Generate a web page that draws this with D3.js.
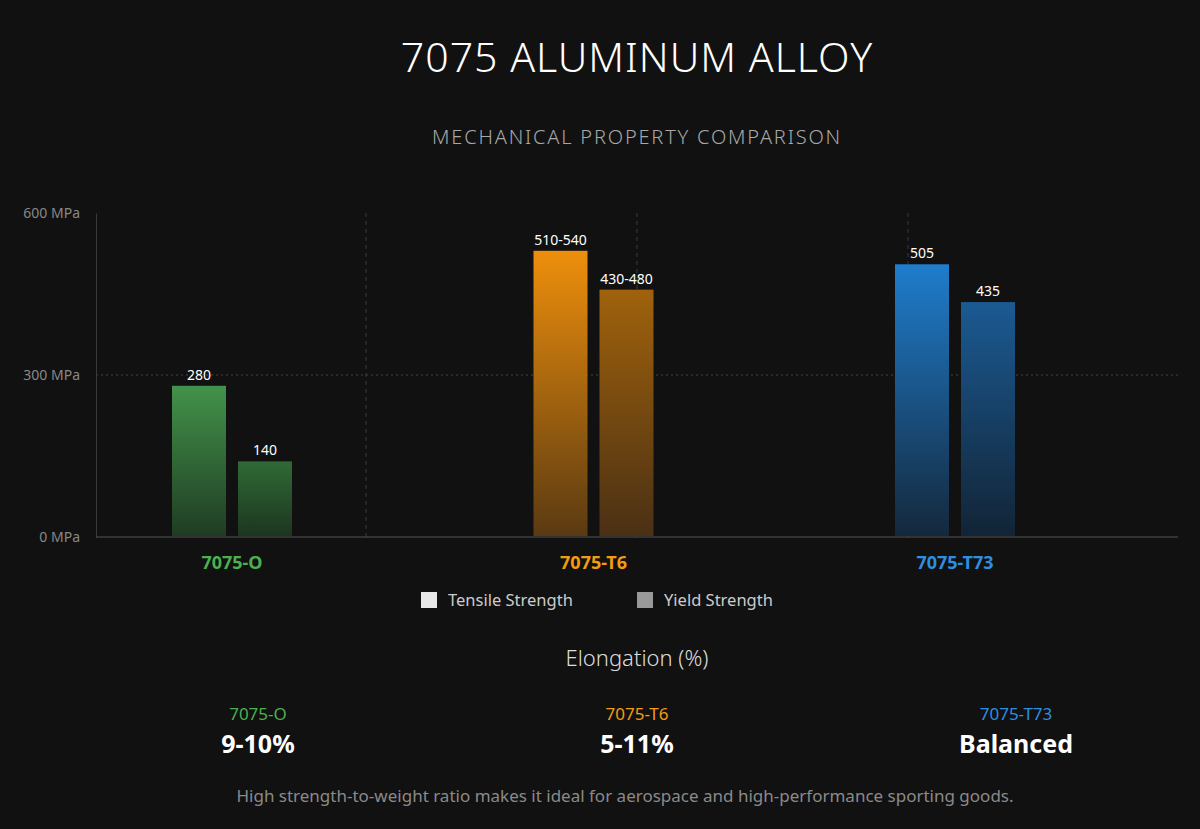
<!DOCTYPE html>
<html><head><meta charset="utf-8">
<script src="https://cdn.jsdelivr.net/npm/d3@7"></script>
<style>body{margin:0;background:#111111;}svg{display:block;font-family:"Noto Sans",sans-serif;}</style>
</head><body><svg id="c" width="1200" height="829"></svg>
<script>
const categories = ["7075-O","7075-T6","7075-T73"];
const tensile = [280, 530, 505];
const yieldS = [140, 458, 435];
const tensileLabels = ["280","510-540","505"];
const yieldLabels = ["140","430-480","435"];
const yTicks = [0, 300, 600];
const elongLabels = ["9-10%","5-11%","Balanced"];
const colors = {"7075-O":["#43924a","#1f3c23","#2f6a36","#1d3520"],
  "7075-T6":["#ee8f0c","#5a3a12","#a0620c","#4a3014"],
  "7075-T73":["#1f7dcc","#14283c","#1b5a92","#122436"]};
const labelColors = ["#4caf50","#f39c12","#2e8fe0"];

const svg = d3.select("#c");
const L=96,R=1178,T=213,B=537;
const y = d3.scaleLinear().domain([0,600]).range([B,T]);
const x = d3.scalePoint().domain(categories).range([232,955]);
const defs = svg.append("defs");
categories.forEach((c,i)=>{
  [[0,1,"t"],[2,3,"y"]].forEach(([a,b,s])=>{
    const g=defs.append("linearGradient").attr("id",`g${i}${s}`).attr("x1",0).attr("x2",0).attr("y1",0).attr("y2",1);
    g.append("stop").attr("offset","0%").attr("stop-color",colors[c][a]);
    g.append("stop").attr("offset","100%").attr("stop-color",colors[c][b]);
  });
});
svg.append("text").attr("x",637).attr("y",72).attr("text-anchor","middle").attr("fill","#fff")
  .attr("font-size",41).attr("font-weight",300).attr("letter-spacing",1).text("7075 ALUMINUM ALLOY");
svg.append("text").attr("x",637).attr("y",144).attr("text-anchor","middle").attr("fill","#a8a8a8")
  .attr("font-size",20).attr("font-weight",300).attr("letter-spacing",1.8).text("MECHANICAL PROPERTY COMPARISON");
// grid
[366,637,908].forEach(v=>svg.append("line").attr("x1",v).attr("x2",v).attr("y1",T).attr("y2",B)
  .attr("stroke","#3a3a3a").attr("stroke-dasharray","4,4"));
svg.append("line").attr("x1",L).attr("x2",R).attr("y1",y(300)).attr("y2",y(300)).attr("stroke","#444").attr("stroke-dasharray","2,3");
// axes
const ya=svg.append("g").attr("transform",`translate(${L},0)`).call(d3.axisLeft(y).tickValues(yTicks).tickSize(0).tickPadding(16).tickFormat(d=>d+" MPa"));
ya.select(".domain").attr("stroke","#3a3a3a");
ya.selectAll("text").attr("fill","#888").attr("font-size",14).attr("font-family","Noto Sans");
svg.append("line").attr("x1",L).attr("x2",R).attr("y1",B).attr("y2",B).attr("stroke","#555");
// bars
const bw=54, gap=12;
categories.forEach((c,i)=>{
  const cx=x(c);
  [[tensile[i],tensileLabels[i],cx-gap/2-bw,"t"],[yieldS[i],yieldLabels[i],cx+gap/2,"y"]].forEach(([v,lab,x0,s])=>{
    svg.append("rect").attr("x",x0).attr("y",y(v)).attr("width",bw).attr("height",B-y(v)-1).attr("fill",`url(#g${i}${s})`);
    svg.append("text").attr("x",x0+bw/2).attr("y",y(v)-6).attr("text-anchor","middle").attr("fill","#fff").attr("font-size",14).text(lab);
  });
  svg.append("text").attr("x",cx).attr("y",569).attr("text-anchor","middle").attr("fill",labelColors[i]).attr("font-size",18).attr("font-weight",700).text(c);
});
// legend
[[421,"#e8e8e8","Tensile Strength"],[637,"#999","Yield Strength"]].forEach(([lx,col,t])=>{
  svg.append("rect").attr("x",lx).attr("y",592).attr("width",16).attr("height",16).attr("fill",col);
  svg.append("text").attr("x",lx+27).attr("y",606).attr("fill","#ccc").attr("font-size",16.5).text(t);
});
svg.append("text").attr("x",637).attr("y",666).attr("text-anchor","middle").attr("fill","#ddd").attr("font-size",22).attr("font-weight",300).text("Elongation (%)");
const ex=[258,637,1016];
categories.forEach((c,i)=>{
  svg.append("text").attr("x",ex[i]).attr("y",720).attr("text-anchor","middle").attr("fill",labelColors[i]).attr("font-size",17).text(c);
  svg.append("text").attr("x",ex[i]).attr("y",753).attr("text-anchor","middle").attr("fill","#fff").attr("font-size",25).attr("font-weight",700).text(elongLabels[i]);
});
svg.append("text").attr("x",625).attr("y",802).attr("text-anchor","middle").attr("fill","#8a8a8a").attr("font-size",17)
  .text("High strength-to-weight ratio makes it ideal for aerospace and high-performance sporting goods.");
</script></body></html>
